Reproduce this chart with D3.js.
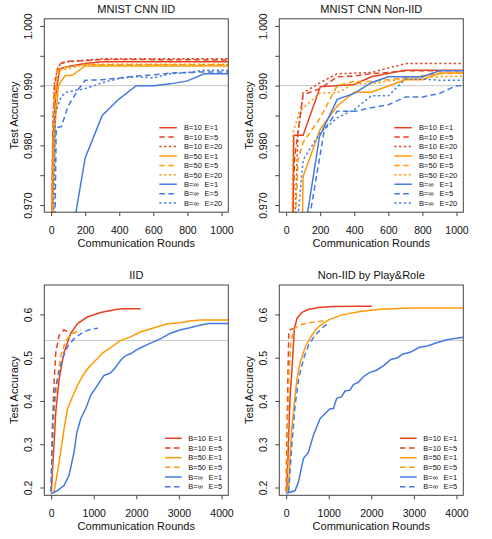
<!DOCTYPE html>
<html>
<head>
<meta charset="utf-8">
<script src="https://cdn.jsdelivr.net/npm/d3@7"></script>
<style>
  body { margin: 0; background: #fff; }
  svg { font-family: "Liberation Sans", Arial, Helvetica, sans-serif; }
</style>
</head>
<body>
<div id="chart"></div>
<script>
// ---- data (round, test accuracy) ----
var roundTicksMnist = [0, 200, 400, 600, 800, 1000]
var roundTicksShake = [0, 1000, 2000, 3000, 4000]
var accTicksMnist = [0.970, 0.975, 0.980, 0.985, 0.990, 0.995, 1.000]
var accLabelsMnist = [0.970, 0.980, 0.990, 1.000]
var accTicksShake = [0.2, 0.3, 0.4, 0.5, 0.6]
var targetMnist = 0.99
var targetShake = 0.54

var batchNames = ["B=10", "B=50", "B=\u221E"]
var epochNamesMnist = ["E=1", "E=5", "E=20"]
var epochNamesShake = ["E=1", "E=5"]

// MNIST CNN IID
var iidB10E1 = [[0,0.95],[10,0.98],[25,0.988],[50,0.9928],[100,0.9932],[200,0.9937],[300,0.9940],[1040,0.9940]]
var iidB10E5 = [[0,0.95],[10,0.982],[20,0.990],[40,0.9930],[60,0.9938],[100,0.9941],[200,0.9942],[300,0.9944],[1040,0.9943]]
var iidB10E20 = [[0,0.95],[10,0.984],[20,0.9905],[40,0.9932],[60,0.9937],[100,0.9940],[300,0.9945],[1040,0.9945]]
var iidB50E1 = [[0,0.95],[15,0.975],[25,0.984],[43,0.990],[82,0.9917],[121,0.9917],[200,0.9933],[1040,0.9933]]
var iidB50E5 = [[0,0.95],[10,0.978],[20,0.987],[40,0.9925],[60,0.9930],[200,0.9935],[1040,0.9935]]
var iidB50E20 = [[0,0.95],[10,0.980],[20,0.989],[50,0.9925],[100,0.9928],[200,0.9936],[1040,0.9936]]
var iidBinfE1 = [[123,0.965],[200,0.9779],[300,0.9850],[400,0.9878],[500,0.9900],[600,0.9900],[700,0.9903],[800,0.9908],[900,0.9920],[1040,0.9920]]
var iidBinfE5 = [[15,0.95],[30,0.9830],[60,0.9831],[100,0.9866],[160,0.9894],[200,0.9909],[300,0.9910],[400,0.9913],[500,0.9916],[600,0.9918],[700,0.9921],[800,0.9922],[900,0.9923],[1040,0.9923]]
var iidBinfE20 = [[5,0.95],[25,0.9855],[60,0.9882],[90,0.9889],[200,0.9895],[300,0.9905],[400,0.9912],[500,0.9915],[600,0.9913],[700,0.9920],[800,0.9922],[900,0.9926],[1040,0.9926]]

// MNIST CNN Non-IID
var nonB10E1 = [[35,0.95],[45,0.9817],[100,0.9817],[200,0.9898],[400,0.9902],[500,0.9915],[700,0.9926],[1040,0.9926]]
var nonB10E5 = [[20,0.95],[50,0.978],[100,0.9885],[200,0.9895],[300,0.9915],[400,0.9916],[500,0.9920],[600,0.9922],[700,0.9925],[1040,0.9925]]
var nonB10E20 = [[30,0.95],[70,0.982],[100,0.9888],[200,0.9905],[300,0.9920],[500,0.9922],[700,0.9937],[1040,0.9937]]
var nonB50E1 = [[85,0.95],[100,0.9748],[200,0.9827],[300,0.9866],[400,0.9889],[500,0.9889],[700,0.9910],[800,0.9910],[900,0.9921],[1040,0.9921]]
var nonB50E5 = [[30,0.95],[70,0.9776],[100,0.9805],[200,0.9846],[300,0.9900],[400,0.9907],[500,0.9907],[700,0.9913],[900,0.9920],[1040,0.9921]]
var nonB50E20 = [[30,0.95],[40,0.9821],[80,0.9857],[200,0.9888],[300,0.9888],[400,0.9903],[500,0.9903],[700,0.9912],[900,0.9915],[1040,0.9916]]
var nonBinfE1 = [[106,0.965],[196,0.9815],[300,0.9877],[400,0.9887],[500,0.9905],[600,0.9915],[800,0.9915],[900,0.9925],[1040,0.9925]]
var nonBinfE5 = [[120,0.965],[225,0.9827],[300,0.9857],[400,0.9857],[500,0.9863],[600,0.9868],[700,0.9881],[800,0.9881],[900,0.9887],[1000,0.9900],[1040,0.9900]]
var nonBinfE20 = [[60,0.965],[100,0.9776],[200,0.9821],[300,0.9846],[400,0.9860],[500,0.9883],[600,0.9883],[700,0.9911],[800,0.9911],[900,0.9909],[1040,0.9909]]

// Shakespeare IID
var shIidB10E1 = [[5,0.19],[110,0.375],[190,0.452],[305,0.513],[460,0.556],[620,0.579],[850,0.594],[1160,0.6045],[1550,0.612],[1700,0.613],[2100,0.613]]
var shIidB10E5 = [[0,0.19],[30,0.336],[70,0.444],[110,0.513],[190,0.552],[300,0.564],[400,0.560]]
var shIidB50E1 = [[0,0.185],[70,0.19],[190,0.259],[305,0.336],[385,0.382],[500,0.409],[620,0.436],[770,0.463],[930,0.483],[1090,0.498],[1200,0.510],[1320,0.518],[1480,0.529],[1630,0.540],[1870,0.548],[2100,0.560],[2250,0.564],[2480,0.571],[2710,0.578],[3020,0.581],[3260,0.585],[3500,0.587],[4160,0.587]]
var shIidB50E5 = [[0,0.19],[70,0.375],[150,0.452],[230,0.506],[345,0.540],[500,0.556],[700,0.564]]
var shIidBinfE1 = [[0,0.186],[150,0.193],[305,0.205],[420,0.228],[540,0.282],[600,0.325],[695,0.359],[812,0.382],[930,0.413],[1086,0.436],[1242,0.459],[1398,0.465],[1515,0.478],[1633,0.494],[1750,0.505],[1867,0.509],[1984,0.517],[2102,0.523],[2320,0.533],[2555,0.543],[2789,0.556],[3023,0.564],[3258,0.569],[3492,0.575],[3688,0.579],[4160,0.579]]
var shIidBinfE5 = [[0,0.19],[40,0.36],[100,0.43],[150,0.452],[266,0.498],[383,0.525],[539,0.544],[734,0.558],[930,0.566],[1100,0.568]]

// Shakespeare Non-IID by Play&Role
var shNonB10E1 = [[15,0.19],[94,0.413],[125,0.4525],[195,0.568],[258,0.5914],[375,0.605],[531,0.612],[766,0.616],[1078,0.6185],[1703,0.619],[2010,0.619]]
var shNonB10E5 = [[0,0.19],[25,0.35],[45,0.47],[63,0.56],[100,0.565],[200,0.568]]
var shNonB50E1 = [[55,0.19],[90,0.27],[133,0.336],[211,0.413],[258,0.4525],[336,0.491],[453,0.526],[609,0.553],[766,0.572],[1000,0.5875],[1312,0.599],[1742,0.607],[2200,0.612],[2730,0.614],[3120,0.615],[4160,0.615]]
var shNonB50E5 = [[20,0.19],[40,0.35],[70,0.47],[120,0.54],[195,0.568],[375,0.5775],[609,0.582],[844,0.585],[950,0.586]]
var shNonBinfE1 = [[0,0.186],[211,0.193],[289,0.2125],[406,0.267],[523,0.281],[641,0.321],[797,0.359],[914,0.371],[1031,0.382],[1109,0.382],[1188,0.406],[1305,0.410],[1383,0.423],[1500,0.425],[1578,0.438],[1695,0.443],[1813,0.456],[1969,0.466],[2125,0.471],[2305,0.483],[2461,0.496],[2617,0.500],[2734,0.508],[2930,0.513],[3125,0.524],[3320,0.527],[3516,0.534],[3750,0.541],[3906,0.544],[4160,0.547]]
var shNonBinfE5 = [[60,0.19],[133,0.297],[211,0.39],[297,0.4525],[414,0.499],[531,0.53],[688,0.553],[883,0.572],[1000,0.58]]

// ---- styles ----
var colors = ["#e6401c", "#ff9a06", "#4479e2"]
var dashes = [null, "5.5,3.5", "2.2,2.6"]

var W = 492, H = 539

var mnistCfg = {
  xDomain: [-40, 1040], yDomain: [0.9688, 1.0012],
  xTicks: roundTicksMnist, yTicks: accTicksMnist, yLabels: accLabelsMnist,
  yFormat: d3.format(".3f"), target: targetMnist, epochs: epochNamesMnist,
  legendTop: 127.7, legendStep: 9.42,
  leg: {l0: 69, l1: 51.5, b: 44.2, e: 23.8}
}
var shakeCfg = {
  xDomain: [-160, 4160], yDomain: [0.182, 0.668],
  xTicks: roundTicksShake, yTicks: accTicksShake, yLabels: accTicksShake,
  yFormat: d3.format(".1f"), target: targetShake, epochs: epochNamesShake,
  legendTop: 438.3, legendStep: 9.68,
  leg: {l0: 63.3, l1: 46.6, b: 40, e: 19.8}
}

var panels = [
  {title: "MNIST CNN IID", box: {l: 44.3, r: 228.3, t: 18.8, b: 212.2}, cfg: mnistCfg,
   series: [iidB10E1, iidB10E5, iidB10E20, iidB50E1, iidB50E5, iidB50E20, iidBinfE1, iidBinfE5, iidBinfE20]},
  {title: "MNIST CNN Non-IID", box: {l: 279.3, r: 463.3, t: 18.8, b: 212.2}, cfg: mnistCfg,
   series: [nonB10E1, nonB10E5, nonB10E20, nonB50E1, nonB50E5, nonB50E20, nonBinfE1, nonBinfE5, nonBinfE20]},
  {title: "IID", box: {l: 44.3, r: 228.3, t: 285, b: 495.3}, cfg: shakeCfg,
   series: [shIidB10E1, shIidB10E5, shIidB50E1, shIidB50E5, shIidBinfE1, shIidBinfE5]},
  {title: "Non-IID by Play&Role", box: {l: 279.3, r: 463.3, t: 285, b: 495.3}, cfg: shakeCfg,
   series: [shNonB10E1, shNonB10E5, shNonB50E1, shNonB50E5, shNonBinfE1, shNonBinfE5]}
]

var svg = d3.select("#chart").append("svg")
  .attr("width", W).attr("height", H)

panels.forEach(function(p, pi) {
  var c = p.cfg, b = p.box
  var nE = c.epochs.length

  var x = d3.scaleLinear().domain(c.xDomain).range([b.l, b.r])
  var y = d3.scaleLinear().domain(c.yDomain).range([b.b, b.t])

  var clipId = "clip" + pi
  svg.append("clipPath").attr("id", clipId)
    .append("rect")
    .attr("x", b.l).attr("y", b.t)
    .attr("width", b.r - b.l).attr("height", b.b - b.t)

  /* target line */
  svg.append("line")
    .attr("x1", b.l).attr("x2", b.r)
    .attr("y1", y(c.target)).attr("y2", y(c.target))
    .attr("stroke", "#c8c8c8").attr("stroke-width", 1)

  var line = d3.line()
    .x(function(d) { return x(d[0]) })
    .y(function(d) { return y(d[1]) })

  var g = svg.append("g").attr("clip-path", "url(#" + clipId + ")")
  p.series.forEach(function(s, i) {
    var bi = Math.floor(i / nE), ei = i % nE
    g.append("path")
      .datum(s)
      .attr("d", line)
      .attr("fill", "none")
      .attr("stroke", colors[bi])
      .attr("stroke-width", 1.5)
      .attr("stroke-dasharray", dashes[ei])
  })

  /* box */
  svg.append("rect")
    .attr("x", b.l).attr("y", b.t)
    .attr("width", b.r - b.l).attr("height", b.b - b.t)
    .attr("fill", "none").attr("stroke", "#444").attr("stroke-width", 1)

  /* x axis */
  var xa = svg.append("g")
    .attr("transform", "translate(0," + b.b + ")")
    .call(d3.axisBottom(x).tickValues(c.xTicks).tickSize(4).tickPadding(8).tickFormat(d3.format("d")))
  xa.select(".domain").remove()
  xa.selectAll("line").attr("stroke", "#444")
  xa.selectAll("text").attr("font-size", 10.5).attr("fill", "#111").attr("font-family", null)
    .attr("y", 22).attr("dy", null)

  /* y axis */
  var ya = svg.append("g")
    .attr("transform", "translate(" + b.l + ",0)")
    .call(d3.axisLeft(y).tickValues(c.yTicks).tickSize(4)
      .tickFormat(function(d) {
        return c.yLabels.some(function(v) { return Math.abs(v - d) < 1e-9 }) ? c.yFormat(d) : ""
      }))
  ya.select(".domain").remove()
  ya.selectAll("line").attr("stroke", "#444")
  ya.selectAll("text")
    .attr("font-size", 10.5).attr("fill", "#111").attr("font-family", null)
    .attr("transform", "rotate(-90)")
    .attr("x", 0).attr("y", -12.2).attr("dy", null)
    .attr("text-anchor", "middle")

  /* labels */
  var cx = (b.l + b.r) / 2, cy = (b.t + b.b) / 2
  svg.append("text")
    .attr("x", cx).attr("y", b.t - 5.6)
    .attr("text-anchor", "middle").attr("font-size", 11).attr("fill", "#111")
    .text(p.title)
  svg.append("text")
    .attr("x", cx).attr("y", b.b + 35)
    .attr("text-anchor", "middle").attr("font-size", 11).attr("fill", "#111")
    .text("Communication Rounds")
  svg.append("text")
    .attr("transform", "translate(" + (b.l - 26.3) + "," + cy + ") rotate(-90)")
    .attr("text-anchor", "middle").attr("font-size", 11).attr("fill", "#111")
    .text("Test Accuracy")

  /* legend */
  var lg = svg.append("g")
  p.series.forEach(function(s, i) {
    var bi = Math.floor(i / nE), ei = i % nE
    var ry = c.legendTop + i * c.legendStep
    lg.append("line")
      .attr("x1", b.r - c.leg.l0).attr("x2", b.r - c.leg.l1)
      .attr("y1", ry).attr("y2", ry)
      .attr("stroke", colors[bi]).attr("stroke-width", 1.5)
      .attr("stroke-dasharray", dashes[ei])
    lg.append("text")
      .attr("x", b.r - c.leg.b).attr("y", ry + 2.7)
      .attr("font-size", 7.5).attr("fill", "#111")
      .text(batchNames[bi])
    lg.append("text")
      .attr("x", b.r - c.leg.e).attr("y", ry + 2.7)
      .attr("font-size", 7.5).attr("fill", "#111")
      .text(c.epochs[ei])
  })
})
</script>
</body>
</html>
